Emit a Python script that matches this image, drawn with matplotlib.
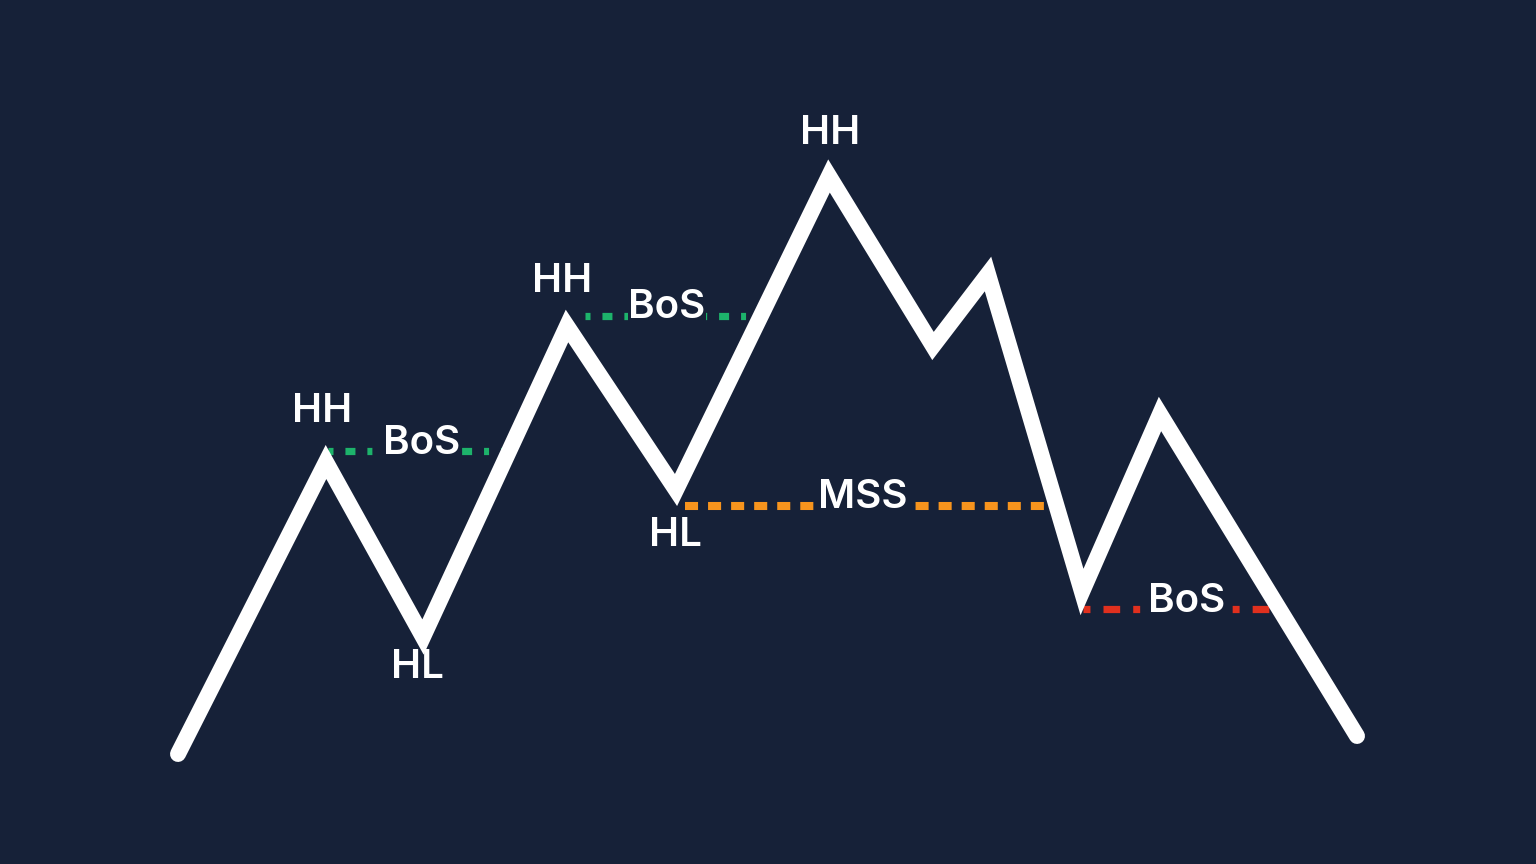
import matplotlib
matplotlib.use('Agg')
import matplotlib.pyplot as plt

plt.rcParams['font.family'] = ['Inter', 'DejaVu Sans']
plt.rcParams['lines.scale_dashes'] = False

# price swing path (pixel-like coords, y down)
px = [178, 326, 423, 567, 676, 829, 933, 988, 1082, 1160, 1357]
py = [754, 462, 637, 326, 490, 176, 346, 274, 592, 414, 736]

# swing labels
lab_txt = ['HH', 'HL', 'HH', 'HL', 'HH']
lab_x = [322, 418, 562, 675, 830]
lab_y = [412, 668, 282, 536, 134]

# structure levels
lvl_x0 = [328, 585, 685, 1083]
lvl_x1 = [505, 756, 1050, 1272]
lvl_y = [451, 316, 506, 609]
lvl_txt = ['BoS', 'BoS', 'MSS', 'BoS']
lvl_tx = [422, 667, 863, 1187]
lvl_col = ['#1db36b', '#1db36b', '#f7941d', '#e0301e']

bg = '#162138'
fig = plt.figure(figsize=(15.36, 8.64), dpi=100)
fig.patch.set_facecolor(bg)
ax = fig.add_axes([0, 0, 1, 1])
ax.set_facecolor(bg)
ax.set_xlim(0, 1536)
ax.set_ylim(864, 0)
ax.axis('off')

for i in range(len(lvl_y)):
    if lvl_txt[i] == 'MSS':
        dash = (9.4, 7.2)
        lw = 5.8
    elif lvl_col[i] == '#e0301e':
        dash = (5, 9.4, 12, 9.4)
        lw = 5.2
    else:
        dash = (3.6, 8.6, 7.2, 8.6)
        lw = 5.2
    l, = ax.plot([lvl_x0[i], lvl_x1[i]], [lvl_y[i], lvl_y[i]], color=lvl_col[i], lw=lw,
                 solid_capstyle='butt', dash_capstyle='butt', zorder=2)
    l.set_dashes(dash)
    ax.text(lvl_tx[i], lvl_y[i] - 8, lvl_txt[i], color='white', fontsize=29, fontweight='semibold',
            ha='center', va='center', zorder=4,
            bbox=dict(boxstyle='square,pad=0.0', fc=bg, ec='none'))

ax.plot(px, py, color='white', lw=11.5, solid_joinstyle='miter', solid_capstyle='round', zorder=3)

for t, x, y in zip(lab_txt, lab_x, lab_y):
    ax.text(x, y, t, color='white', fontsize=29, fontweight='semibold',
            ha='center', va='center', zorder=5)

fig.savefig('out.png', dpi=100, facecolor=bg)
